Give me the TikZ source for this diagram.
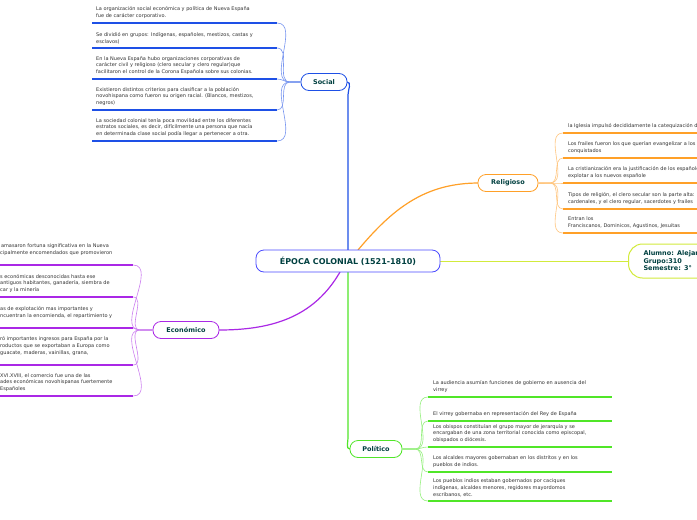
\documentclass[tikz,border=0pt]{standalone}
\usepackage{fontspec}
\setmainfont{DejaVu Sans}
\begin{document}
\begin{tikzpicture}[x=1pt,y=-1pt,
 txt/.style={anchor=north west,align=left,inner sep=0pt,font=\fontsize{5}{6.8}\selectfont,text=black!80},
 mainbox/.style={draw=blue!70,rounded corners=8pt,line width=0.8pt,minimum height=22pt,font=\bfseries\fontsize{8}{9}\selectfont,text=teal!50!black},
 sub/.style={rounded corners=8pt,line width=0.8pt,minimum height=17pt,font=\bfseries\fontsize{6.5}{7}\selectfont,text=teal!50!black,fill=white},
 ul/.style={line width=1.2pt}]
\useasboundingbox[clip] (0,0) rectangle (697,520);
\fill[white] (0,0) rectangle (697,520);
\definecolor{cB}{RGB}{30,80,230}\definecolor{cO}{RGB}{255,160,40}\definecolor{cP}{RGB}{170,40,230}\definecolor{cG}{RGB}{80,230,40}\definecolor{cY}{RGB}{210,235,60}
% connectors from center
\coordinate (c1) at (348,250);
\draw[cB,line width=1.2pt] (348,250) -- (348,95) to[out=90,in=0] (347,82);
\draw[cG,line width=1.2pt] (348,272) -- (348,438) to[out=-90,in=180] (350,449);
\draw[cO,line width=1.2pt] (358,250) to[out=50,in=180] (479,183);
\draw[cP,line width=1.2pt] (340,272) to[out=-120,in=0] (219,330);
\draw[cY,line width=1pt] (440,261) -- (628,261);
\node[mainbox,minimum width=184pt,fill=white] (main) at (348,261) {ÉPOCA COLONIAL (1521-1810)};
\node[sub,draw=cB,minimum width=46pt] (soc) at (324,82) {Social};
\node[sub,draw=cO,minimum width=60pt] (rel) at (508,183) {Religioso};
\node[sub,draw=cP,minimum width=66pt] (eco) at (186,330) {Económico};
\node[sub,draw=cG,minimum width=52pt] (pol) at (376,449) {Político};
\node[draw=cY,line width=1pt,rounded corners=14pt,minimum height=34pt,minimum width=110pt,anchor=west,align=left,inner xsep=14pt,font=\bfseries\fontsize{6.5}{7.5}\selectfont,text=teal!50!black,text width=80pt] (alu) at (628,261) {Alumno: Alejandro\\Grupo:310\\Semestre: 3°};
% Social
\foreach \y/\t in {23/{La organización social económica y política de Nueva España\\fue de carácter corporativo.},
 48/{Se dividió en grupos: Indígenas, españoles, mestizos, castas y\\esclavos)},
 79/{En la Nueva España hubo organizaciones corporativas de\\carácter civil y religioso (clero secular y clero regular)que\\facilitaron el control de la Corona Española sobre sus colonias.},
 110/{Existieron distintos criterios para clasificar a la población\\novohispana como fueron su origen racial. (Blancos, mestizos,\\negros)},
 141/{La sociedad colonial tenía poca movilidad entre los diferentes\\estratos sociales, es decir, difícilmente una persona que nacía\\en determinada clase social podía llegar a pertenecer a otra.}}{
 \draw[cB,ul] (92,\y) -- (277,\y);
 \node[txt,anchor=south west] at (96,\y-4) {\t};
 \draw[cB!60,line width=0.6pt] (soc.west) -- (290,82) to[out=180,in=0] (277,\y);}
% Religioso
\foreach \y/\t in {133/{la Iglesia impulsó decididamente la catequización de los indígenas},
 158/{Los frailes fueron los que querían evangelizar a los\\conquistados},
 183/{La cristianización era la justificación de los españoles para\\explotar a los nuevos españole},
 209/{Tipos de religión, el clero secular son la parte alta:\\cardenales, y el clero regular, sacerdotes y frailes},
 233/{Entran los\\Franciscanos, Dominicos, Agustinos, Jesuitas}}{
 \draw[cO,ul] (563,\y) -- (697,\y);
 \node[txt,anchor=south west] at (568,\y-4) {\t};
 \draw[cO!60,line width=0.6pt] (rel.east) -- (550,183) to[out=0,in=180] (563,\y);}
% Economico
\foreach \y/\t in {265/{\,amasaron fortuna significativa en la Nueva\\cipalmente encomendados que promovieron\\},
 297/{s económicas desconocidas hasta ese\\antiguos habitantes, ganadería, siembra de\\car y la minería},
 328/{as de explotación mas importantes y\\ncuentran la encomienda, el repartimiento y\\},
 365/{ró importantes ingresos para España por la\\roductos que se exportaban a Europa como\\guacate, maderas, vainillas, grana,\\},
 396/{XVI.XVIII, el comercio fue una de las\\ades económicas novohispanas fuertemente\\Españoles}}{
 \draw[cP,ul] (0,\y) -- (133,\y);
 \node[txt,anchor=south west] at (0,\y-4) {\t};
 \draw[cP!60,line width=0.6pt] (eco.west) -- (140,330) to[out=180,in=0] (133,\y);}
% Politico
\foreach \y/\t in {397/{La audiencia asumían funciones de gobierno en ausencia del\\virrey},
 421/{El virrey gobernaba en representación del Rey de España},
 447/{Los obispos constituían el grupo mayor de jerarquía y se\\encargaban de una zona territorial conocida como episcopal,\\obispados o diócesis.},
 472/{Los alcaldes mayores gobernaban en los distritos y en los\\pueblos de indios.},
 501/{Los pueblos indios estaban gobernados por caciques\\indígenas, alcaldes menores, regidores mayordomos\\escribanos, etc.}}{
 \draw[cG,ul] (428,\y) -- (612,\y);
 \node[txt,anchor=south west] at (433,\y-4) {\t};
 \draw[cG!60,line width=0.6pt] (pol.east) -- (415,449) to[out=0,in=180] (428,\y);}
\end{tikzpicture}
\end{document}
